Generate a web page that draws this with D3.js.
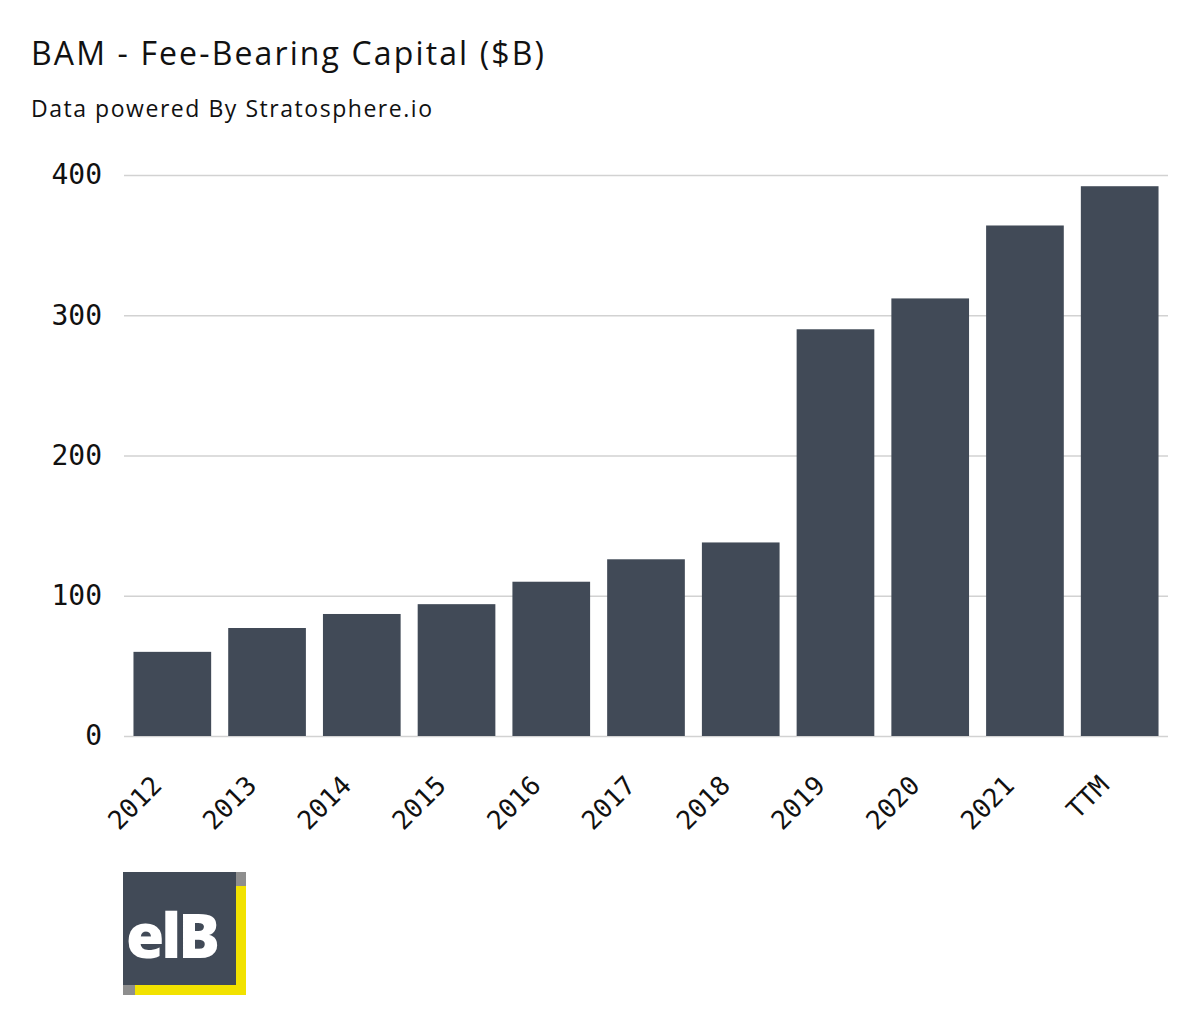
<!DOCTYPE html>
<html>
<head>
<meta charset="utf-8">
<script src="https://cdn.jsdelivr.net/npm/d3@7"></script>
<style>
  body { margin: 0; background: #fff; }
  svg { display: block; }
</style>
</head>
<body>
<svg id="chart" width="1200" height="1026"></svg>
<script>
// data
const years = ['2012', '2013', '2014', '2015', '2016', '2017', '2018', '2019', '2020', '2021', 'TTM'];
const capital = [60, 77, 87, 94, 110, 126, 138, 290, 312, 364, 392];
const yTicks = [0, 100, 200, 300, 400];

const svg = d3.select('#chart');
const barColor = '#414a57';

// titles
svg.append('text')
  .attr('x', 31).attr('y', 65)
  .attr('font-family', '"Open Sans", sans-serif')
  .attr('font-size', 32)
  .attr('fill', '#111')
  .attr('textLength', 513)
  .text('BAM - Fee-Bearing Capital ($B)');

svg.append('text')
  .attr('x', 31).attr('y', 117)
  .attr('font-family', '"Open Sans", sans-serif')
  .attr('font-size', 23)
  .attr('fill', '#111')
  .attr('textLength', 401)
  .text('Data powered By Stratosphere.io');

// scales
const x = d3.scaleBand()
  .domain(years)
  .range([124, 1168])
  .paddingInner(0.18)
  .paddingOuter(0.1);

const y = d3.scaleLinear()
  .domain([0, 400])
  .range([736, 175]);

// gridlines + y labels
const yAxis = svg.append('g')
  .attr('transform', 'translate(124,0)')
  .call(d3.axisLeft(y).tickValues(yTicks).tickSize(-1044).tickPadding(22));
yAxis.select('.domain').remove();
yAxis.selectAll('.tick line').attr('stroke', '#d2d2d2').attr('stroke-width', 1.5);
yAxis.selectAll('.tick text')
  .attr('font-family', '"DejaVu Sans Mono", monospace')
  .attr('font-size', 28)
  .attr('fill', '#111');

// bars
svg.append('g')
  .selectAll('rect')
  .data(years)
  .join('rect')
  .attr('x', d => x(d))
  .attr('width', x.bandwidth())
  .attr('y', (d, i) => y(capital[i]))
  .attr('height', (d, i) => y(0) - y(capital[i]))
  .attr('fill', barColor);

// x labels
const xAxis = svg.append('g')
  .attr('transform', 'translate(0,736)')
  .call(d3.axisBottom(x).tickSize(0).tickPadding(0));
xAxis.select('.domain').remove();
xAxis.selectAll('.tick text')
  .attr('font-family', '"DejaVu Sans Mono", monospace')
  .attr('font-size', 26)
  .attr('fill', '#111')
  .attr('text-anchor', 'end')
  .attr('dy', 0)
  .attr('transform', 'translate(-9,51) rotate(-45)');

// logo
const logo = svg.append('g');
logo.append('rect').attr('x', 123).attr('y', 872).attr('width', 113).attr('height', 113).attr('fill', barColor);
logo.append('rect').attr('x', 236).attr('y', 872).attr('width', 10).attr('height', 14).attr('fill', '#8e8e8e');
logo.append('rect').attr('x', 236).attr('y', 886).attr('width', 10).attr('height', 109).attr('fill', '#f2e200');
logo.append('rect').attr('x', 135).attr('y', 985).attr('width', 101).attr('height', 10).attr('fill', '#f2e200');
logo.append('rect').attr('x', 123).attr('y', 985).attr('width', 12).attr('height', 10).attr('fill', '#8e8e8e');
logo.append('text')
  .attr('x', 126).attr('y', 958)
  .attr('font-family', '"Open Sans", Roboto, sans-serif')
  .attr('font-weight', 800)
  .attr('font-size', 62)
  .attr('letter-spacing', -3)
  .attr('fill', '#fff')
  .text('elB');
</script>
</body>
</html>
